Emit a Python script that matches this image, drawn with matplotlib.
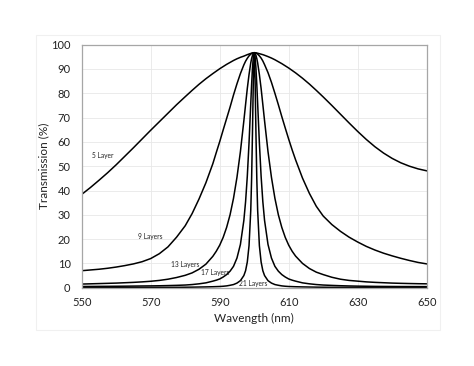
import matplotlib
matplotlib.use('Agg')
import matplotlib.pyplot as plt
from matplotlib.patches import Rectangle

plt.rcParams['font.family'] = ['Lato', 'DejaVu Sans']

# wavelength samples (nm), shared by all curves
wavelength = [550, 552.5, 555, 557.5, 560, 562.5, 565, 567.5, 570, 572.5,
              575, 577.5, 580, 582, 584, 586, 588, 589, 590, 591,
              592, 593, 594, 595, 596, 597, 597.5, 598, 598.5, 599,
              599.25, 599.5, 599.75, 600,
              600.25, 600.5, 600.75, 601, 601.5, 602, 602.5, 603, 604, 605,
              606, 607, 608, 609, 610, 611, 612, 614, 616, 618,
              620, 622.5, 625, 627.5, 630, 632.5, 635, 637.5, 640, 642.5,
              645, 647.5, 650]

# transmission (%)
t_5 = [38.4, 41.2, 44.2, 47.3, 50.6, 54.1, 57.6, 61.2, 64.8, 68.3,
       71.8, 75.3, 78.6, 81.2, 83.7, 86.0, 88.1, 89.1, 90.1, 91.0,
       91.9, 92.7, 93.5, 94.2, 94.8, 95.3, 95.6, 95.9, 96.15, 96.4,
       96.5, 96.6, 96.67, 96.7,
       96.68, 96.63, 96.56, 96.48, 96.3, 96.1, 95.9, 95.65, 95.1, 94.5,
       93.8, 93.0, 92.2, 91.3, 90.4, 89.4, 88.4, 86.2, 83.8, 81.2,
       78.5, 75.0, 71.4, 67.8, 64.3, 61.0, 58.0, 55.4, 53.2, 51.4,
       50.0, 48.9, 48.1]
t_9 = [7.0, 7.3, 7.6, 8.0, 8.5, 9.1, 9.8, 10.7, 12.0, 14.0,
       16.8, 20.8, 25.5, 30.5, 36.5, 43.2, 51.0, 55.6, 60.1, 64.9,
       69.6, 74.3, 79.3, 83.9, 88.1, 91.7, 93.2, 94.4, 95.4, 96.1,
       96.4, 96.55, 96.68, 96.7,
       96.69, 96.6, 96.4, 96.1, 95.4, 94.5, 93.3, 91.8, 88.5, 84.5,
       80.0, 75.3, 70.4, 65.7, 61.1, 56.7, 52.6, 45.1, 38.8, 33.5,
       29.5, 26.0, 23.2, 20.8, 18.8, 17.0, 15.5, 14.2, 13.1, 12.1,
       11.2, 10.4, 9.8]
t_13 = [1.5, 1.6, 1.7, 1.8, 1.9, 2.05, 2.2, 2.4, 2.65, 3.0,
        3.5, 4.2, 5.1, 6.1, 7.6, 9.7, 12.9, 15.0, 17.5, 20.7,
        24.8, 30.0, 36.8, 45.4, 56.0, 68.7, 75.4, 82.0, 87.7, 92.5,
        94.3, 95.6, 96.4, 96.7,
        96.4, 95.6, 94.3, 92.5, 87.7, 82.0, 75.4, 68.7, 56.0, 45.4,
        36.8, 30.0, 24.8, 20.7, 17.5, 15.0, 13.0, 10.0, 7.9, 6.4,
        5.4, 4.3, 3.5, 3.0, 2.7, 2.4, 2.2, 2.05, 1.9, 1.8,
        1.72, 1.65, 1.6]
t_17 = [0.5, 0.52, 0.55, 0.57, 0.6, 0.63, 0.67, 0.71, 0.75, 0.8,
        0.88, 0.97, 1.1, 1.3, 1.6, 2.0, 2.7, 3.1, 3.6, 4.4,
        5.4, 6.8, 8.8, 12.2, 17.8, 27.7, 35.4, 45.9, 59.6, 75.7,
        83.7, 90.4, 95.1, 96.7,
        95.1, 90.4, 83.7, 75.7, 59.6, 45.9, 35.4, 27.7, 17.8, 12.2,
        8.8, 6.8, 5.4, 4.4, 3.6, 3.1, 2.7, 2.0, 1.6, 1.3,
        1.1, 0.95, 0.82, 0.72, 0.65, 0.6, 0.55, 0.52, 0.5, 0.48,
        0.47, 0.46, 0.45]
t_21 = [0.1, 0.1, 0.1, 0.1, 0.11, 0.11, 0.12, 0.12, 0.13, 0.14,
        0.15, 0.17, 0.2, 0.23, 0.28, 0.33, 0.4, 0.45, 0.5, 0.6,
        0.75, 1.0, 1.3, 1.9, 2.9, 5.0, 7.0, 10.6, 17.3, 31.8,
        45.0, 64.0, 85.8, 96.7,
        85.8, 64.0, 45.0, 31.8, 17.3, 10.6, 7.0, 5.0, 2.9, 1.9,
        1.3, 1.0, 0.75, 0.6, 0.5, 0.45, 0.4, 0.33, 0.28, 0.23,
        0.2, 0.17, 0.15, 0.14, 0.13, 0.12, 0.12, 0.11, 0.11, 0.1,
        0.1, 0.1, 0.1]

series = [t_5, t_9, t_13, t_17, t_21]
labels = ['5 Layer', '9 Layers', '13 Layers', '17 Layers', '21 Layers']
label_x = [556.1, 570.0, 580.1, 588.7, 599.8]
label_y = [54.3, 21.0, 9.6, 6.4, 1.8]

fig = plt.figure(figsize=(4.74, 3.66), dpi=100)
# faint chart-area border
fig.patches.append(Rectangle((36 / 474, 1 - 330 / 366), (440 - 36) / 474, (330 - 35) / 366,
                             transform=fig.transFigure, fill=False,
                             edgecolor='#F0F0F0', linewidth=0.8))

ax = fig.add_axes([0.1724, 0.2139, 0.7278, 0.664])

for t in series:
    ax.plot(wavelength, t, color='black', linewidth=1.1, solid_joinstyle='round')

for txt, x, y in zip(labels, label_x, label_y):
    ax.text(x, y, txt, fontsize=4.8, ha='center', va='center', color='#222222')

ax.set_xlim(550, 650)
ax.set_ylim(0, 100)
ax.set_xticks([550, 570, 590, 610, 630, 650])
ax.set_yticks(range(0, 101, 10))
ax.tick_params(length=0, labelsize=8, colors='#222222')
ax.tick_params(axis='y', pad=8)
ax.tick_params(axis='x', pad=7)
ax.grid(True, color='#E8E8E8', linewidth=0.6)
ax.set_axisbelow(True)
for sp in ax.spines.values():
    sp.set_color('#A6A6A6')
    sp.set_linewidth(0.9)

ax.set_xlabel('Wavength (nm)', fontsize=8.5, color='#222222', labelpad=3)
ax.set_ylabel('Transmission (%)', fontsize=8.5, color='#222222', labelpad=1.5)

fig.savefig('out.png', dpi=100)
